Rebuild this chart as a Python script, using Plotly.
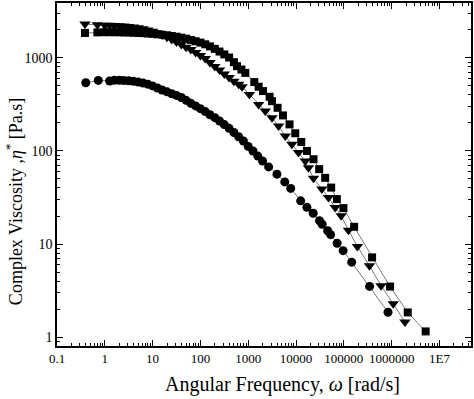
import plotly.graph_objects as go

# Squares series
sq_w = [0.385, 0.7, 1.0, 1.26, 1.58, 2.0, 2.5, 3.16, 3.98, 5.01, 6.31, 7.94, 10, 12.6, 15.8, 20, 25.1,
        31.6, 39.8, 50.1, 63.1, 79.4, 100, 126, 158, 200, 251, 316, 398, 501, 583, 720, 871, 1340, 1650,
        2037, 2800, 3140, 4110, 5330, 7310, 9620, 12850, 16900, 23200, 30500, 40700, 54300, 71400,
        98000, 164000, 390000, 927000, 2170000, 5150000]
sq_eta = [1854, 1880, 1890, 1890, 1890, 1885, 1880, 1875, 1865, 1855, 1845, 1830, 1815, 1795, 1775, 1750, 1720,
          1690, 1650, 1610, 1560, 1510, 1460, 1400, 1330, 1250, 1170, 1090, 1010, 900, 815, 750, 690, 550, 490,
          440, 382, 343, 291, 241, 193, 155, 125, 100, 81.5, 63.7, 51.4, 40.4, 30.4,
          24.3, 15.3, 7.18, 3.49, 1.84, 1.15]

# Down-triangle series
tri_w = [0.385, 0.7, 1.0, 1.26, 1.58, 2.0, 2.5, 3.16, 3.98, 5.01, 6.31, 7.94, 10, 12.6, 15.8, 20, 25.1,
         31.6, 39.8, 50.1, 63.1, 79.4, 100, 126, 158, 200, 251, 316, 398, 501, 631, 743, 1060, 1648,
         2275, 3140, 4315, 5960, 8200, 11270, 15560, 18200, 23200, 34700, 47700, 65800, 88000,
         125000, 192000, 343000, 600000, 1080000, 1900000]
tri_eta = [2313, 2270, 2250, 2240, 2230, 2215, 2200, 2175, 2150, 2110, 2060, 2000, 1930, 1850, 1760, 1670, 1580,
           1480, 1390, 1300, 1230, 1140, 1060, 985, 890, 810, 740, 670, 615, 560, 520, 490, 405, 316,
           268, 228, 185, 145, 118, 96, 78, 66, 51, 39, 31.6, 24.7, 20.1,
           14.1, 9.4, 5.85, 3.57, 2.28, 1.45]

# Circle series
cir_w = [0.4, 0.73, 1.26, 1.58, 2.0, 2.5, 3.16, 3.98, 5.01, 6.31, 7.94, 10, 12.6, 15.8, 20, 25.1, 31.6,
         39.8, 50.1, 63.1, 79.4, 100, 126, 158, 200, 251, 316, 398, 501, 631, 794, 1000, 1259, 1585, 1995,
         2670, 3990, 5810, 7750, 12500, 16900, 22900, 31000, 35200, 45900, 53000, 72400, 96700,
         146000, 346000, 840000]
cir_eta = [540, 573, 565, 575, 575, 572, 568, 560, 550, 538, 522, 500, 475, 452, 432, 412, 395,
           375, 350, 325, 305, 285, 265, 245, 228, 210, 192, 175, 158, 142, 128, 112, 100, 88, 78,
           67.4, 56.3, 46.5, 39.6, 29.1, 24.8, 21.4, 17.8, 16.3, 13.9, 12.6, 10.2, 8.48,
           6.38, 3.5, 1.85]

x_tickvals = [0.1, 1, 10, 100, 1000, 10000, 100000, 1000000, 10000000]
x_ticktext = ["0.1", "1", "10", "100", "1000", "10000", "100000", "1000000", "1E7"]
y_tickvals = [1, 10, 100, 1000]
y_ticktext = ["1", "10", "100", "1000"]

FONT = "Liberation Serif"
line_style = dict(color="#555555", width=0.8)

fig = go.Figure()
fig.add_trace(go.Scatter(x=sq_w, y=sq_eta, mode="lines+markers", line=line_style,
                         marker=dict(symbol="square", size=8, color="black"), showlegend=False))
fig.add_trace(go.Scatter(x=tri_w, y=tri_eta, mode="lines+markers", line=line_style,
                         marker=dict(symbol="triangle-down", size=10, color="black"), showlegend=False))
fig.add_trace(go.Scatter(x=cir_w, y=cir_eta, mode="lines+markers", line=line_style,
                         marker=dict(symbol="circle", size=9, color="black"), showlegend=False))

axis_common = dict(showgrid=False, zeroline=False, showline=True, linecolor="black", linewidth=1.5,
                   ticks="inside", ticklen=6, tickwidth=1.2, tickcolor="black", mirror="allticks",
                   minor=dict(ticks="inside", ticklen=3, tickwidth=1, tickcolor="black", dtick="D1",
                              showgrid=False))

fig.update_xaxes(type="log", range=[-1, 7.66], tickvals=x_tickvals, ticktext=x_ticktext,
                 tickfont=dict(family=FONT, size=13, color="black"), **axis_common)
fig.update_yaxes(type="log", range=[-0.096, 3.59], tickvals=y_tickvals, ticktext=y_ticktext,
                 tickfont=dict(family=FONT, size=14, color="black"), **axis_common)

fig.update_layout(
    width=474, height=399,
    margin=dict(l=57, r=3, t=1, b=53),
    paper_bgcolor="white", plot_bgcolor="white",
    font=dict(family=FONT, color="black"),
    annotations=[
        dict(text="Angular Frequency, <i>ω</i> [rad/s]", xref="paper", yref="paper",
             x=0.545, y=-0.113, showarrow=False, xanchor="center", yanchor="middle",
             font=dict(family=FONT, size=20, color="black")),
        dict(text="Complex Viscosity ,<i>η</i><sup>*</sup> [Pa.s]", xref="paper", yref="paper",
             x=-0.101, y=0.42, showarrow=False, textangle=-90, xanchor="center", yanchor="middle",
             font=dict(family=FONT, size=18, color="black")),
    ],
)

fig.write_html("out.html", config={"displayModeBar": False},
               post_script="document.body.style.margin='0px';document.body.style.overflow='hidden';")
